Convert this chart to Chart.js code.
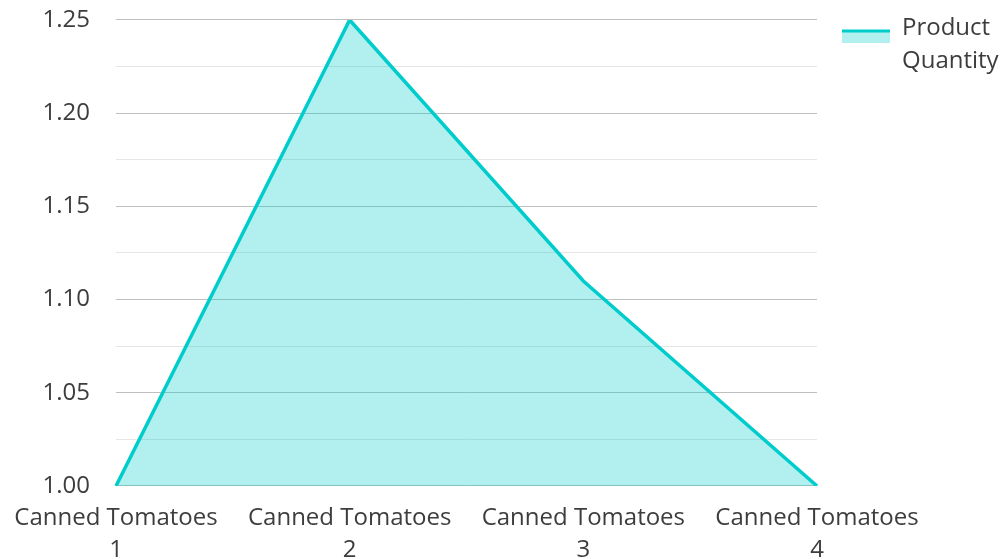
<!DOCTYPE html>
<html lang="en">
  <head>
    <meta charset="utf-8" />
    <title>Product Quantity</title>
    <style>
      * {
        margin: 0;
        padding: 0;
      }
      body {
        background: #fff;
      }
      .chartBox {
        width: 1004px;
        height: 559px;
      }
    </style>
  </head>
  <body>
    <div class="chartBox">
      <canvas id="myChart"></canvas>
    </div>

    <script src="https://cdn.jsdelivr.net/npm/chart.js"></script>

    <script>
      const categories = [
        "Canned Tomatoes 1",
        "Canned Tomatoes 2",
        "Canned Tomatoes 3",
        "Canned Tomatoes 4",
      ];
      const quantities = [1.0, 1.25, 1.11, 1.0];
      const seriesName = "Product Quantity";

      const lineColor = "rgb(0, 204, 204)";
      const fillColor = "rgba(0, 204, 204, 0.3)";
      const textColor = "#3d3d3d";

      Chart.defaults.font.family = "'Open Sans', sans-serif";
      Chart.defaults.font.size = 24;
      Chart.defaults.font.lineHeight = 1.33;
      Chart.defaults.color = textColor;

      // legend on the right, label wrapped onto two lines
      const sideLegend = {
        id: "sideLegend",
        afterDraw(chart) {
          const { ctx, chartArea } = chart;
          const ds = chart.data.datasets[0];
          const x = chartArea.right + 25;
          const y = 31;
          ctx.save();
          ctx.fillStyle = ds.backgroundColor;
          ctx.fillRect(x, y, 48, 12);
          ctx.strokeStyle = ds.borderColor;
          ctx.lineWidth = 3;
          ctx.beginPath();
          ctx.moveTo(x, y);
          ctx.lineTo(x + 48, y);
          ctx.stroke();
          ctx.font = "24px 'Open Sans', sans-serif";
          ctx.fillStyle = textColor;
          ctx.textAlign = "left";
          ctx.textBaseline = "alphabetic";
          const words = ds.label.split(" ");
          words.forEach((w, i) => {
            ctx.fillText(w, x + 60, 35 + i * 33);
          });
          ctx.restore();
        },
      };

      const config = {
        type: "line",
        data: {
          labels: categories,
          datasets: [
            {
              label: seriesName,
              data: quantities,
              borderColor: lineColor,
              backgroundColor: fillColor,
              borderWidth: 3.5,
              fill: "start",
              tension: 0,
              pointRadius: 0,
              pointHoverRadius: 0,
            },
          ],
        },
        options: {
          responsive: true,
          maintainAspectRatio: false,
          animation: false,
          layout: {
            padding: { top: 0, right: 187, bottom: 0, left: 0 },
          },
          plugins: {
            legend: { display: false },
            tooltip: { enabled: false },
          },
          scales: {
            x: {
              grid: { display: false },
              border: { display: false },
              afterFit: (scale) => {
                scale.height = 73;
              },
              ticks: {
                maxRotation: 0,
                autoSkip: false,
                padding: 8,
                callback: function (value) {
                  const label = this.getLabelForValue(value);
                  const i = label.lastIndexOf(" ");
                  return [label.slice(0, i), label.slice(i + 1)];
                },
              },
            },
            y: {
              min: 1.0,
              max: 1.25,
              border: { display: false },
              afterFit: (scale) => {
                scale.width = 116;
              },
              grid: {
                drawTicks: true,
                tickLength: 22,
                tickColor: "rgba(0,0,0,0)",
                lineWidth: 1,
                color: (ctx) => {
                  const v = Math.round(ctx.tick.value * 1000);
                  return v % 50 === 0 ? "#bfbfbf" : "#e6e6e6";
                },
              },
              ticks: {
                stepSize: 0.025,
                padding: 4,
                callback: (value) => {
                  const v = Math.round(value * 1000);
                  return v % 50 === 0 ? value.toFixed(2) : "";
                },
              },
            },
          },
        },
        plugins: [sideLegend],
      };

      const myChart = new Chart(document.getElementById("myChart"), config);
    </script>
  </body>
</html>
